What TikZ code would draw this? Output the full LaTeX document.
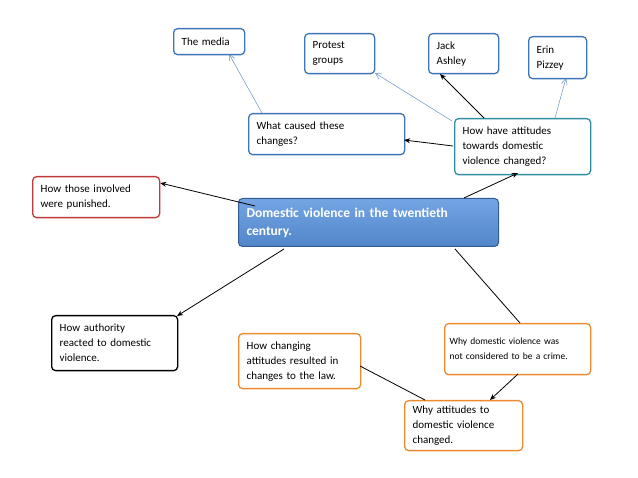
\documentclass[tikz,border=0pt]{standalone}
\usepackage{fontspec}
\setmainfont{Carlito}
\usetikzlibrary{arrows.meta}
\definecolor{bb}{HTML}{3E74B8}
\definecolor{tl}{HTML}{2E8FA0}
\definecolor{rd}{HTML}{C0393B}
\definecolor{og}{HTML}{EE8A2E}
\definecolor{mf}{HTML}{5B95DF}
\begin{document}
\begin{tikzpicture}[x=1pt,y=-1pt,
 box/.style={draw=#1,line width=1.3pt,rounded corners=4pt,fill=white,align=left,font=\fontsize{11}{15}\selectfont,inner sep=0pt},
 ar/.style={-{Stealth[length=6pt,width=5pt]},line width=0.8pt},
 bar/.style={-{Straight Barb[length=6pt,width=6pt]},draw=bb!80,line width=0.5pt}]
\useasboundingbox (0,0) rectangle (638,478);
\newcommand{\bx}[7]{\node[box=#6,minimum width=#4-#2,minimum height=#5-#3,anchor=north west,text width=#4-#2-16] (#1) at (#2,#3) {#7};}
\bx{media}{173}{28}{244}{54}{bb}{The media}
\bx{protest}{304}{33}{374}{73}{bb}{Protest\\groups}
\bx{jack}{428}{33}{498}{73}{bb}{Jack\\Ashley}
\bx{erin}{528}{36}{586}{78}{bb}{Erin\\Pizzey}
\bx{what}{248}{113}{404}{154}{bb}{What caused these\\changes?}
\bx{how}{454}{118}{590}{174}{tl}{How have attitudes\\towards domestic\\violence changed?}
\bx{pun}{32}{176}{159}{217}{rd}{How those involved\\were punished.}
\bx{auth}{51}{315}{177}{370}{black}{How authority\\reacted to domestic\\violence.}
\node[box=og,anchor=north west,minimum width=146,minimum height=51,text width=136,font=\fontsize{9.5}{15}\selectfont] (why) at (444,323) {Why domestic violence was\\not considered to be a crime.};
\bx{chg}{238}{333}{360}{388}{og}{How changing\\attitudes resulted in\\changes to the law.}
\bx{wat}{404}{400}{522}{450}{og}{Why attitudes to\\domestic violence\\changed.}
\node[draw=bb!80!black,line width=1pt,rounded corners=4pt,top color=mf!85!white,bottom color=mf!90!black,anchor=north west,minimum width=260,minimum height=48,text width=244,align=left,text=white,inner sep=0pt,font=\fontsize{13.5}{18}\selectfont\bfseries] (main) at (238,198) {Domestic violence in the twentieth\\century.};
\draw[ar] (255,206) -- (pun.east|-0,183);
\draw[ar] (284,249) -- (177,316);
\draw[line width=0.8pt] (455,249) -- (520,323);
\draw[ar] (464,198) -- (518,173);
\draw[ar] (453,146) -- (404,140);
\draw[ar] (484,118) -- (440,74);
\draw[bar] (555,118) -- (566,78);
\draw[bar] (452,121) -- (375,73);
\draw[bar] (262,113) -- (229,54);
\draw[ar] (518,374) -- (490,400);
\draw[line width=0.8pt] (360,366) -- (425,400);
\end{tikzpicture}
\end{document}
